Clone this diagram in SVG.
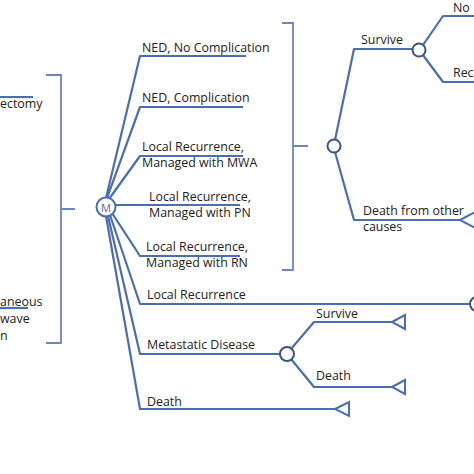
<svg xmlns="http://www.w3.org/2000/svg" width="474" height="474" viewBox="0 0 474 474">
<style>
.ln{fill:none;stroke:#4a6db3;stroke-width:2.2;stroke-linejoin:round}
.br{fill:none;stroke:#6b86c0;stroke-width:1.8}
.ch{fill:#fff;stroke:#3e5478;stroke-width:2}
.tm{fill:#fff;stroke:#4a6db3;stroke-width:2}
text{font-family:"Open Sans","Liberation Sans",sans-serif;font-size:12.4px;fill:#222}
</style>
<rect width="474" height="474" fill="#fff"/>
<g id="connectors">
<path class="ln" d="M0 97 H33"/>
<path class="ln" d="M0 308 H28"/>
<path class="br" d="M46 75 H61 V343 H46 M61 209 H75"/>
<path class="br" d="M282 23 H293 V270 H282 M293 146 H308"/>
<path class="ln" d="M106 198 L140 56 H246"/>
<path class="ln" d="M107 198 L140 107 H243"/>
<path class="ln" d="M109 199 L140 156 H243"/>
<path class="ln" d="M114 205 H240"/>
<path class="ln" d="M112 213 L140 256 H240"/>
<path class="ln" d="M110 215 L140 304 H470"/>
<path class="ln" d="M108 216 L140 354 H280"/>
<path class="ln" d="M106 216 L140 409 H335"/>
<path class="ln" d="M291 349 L314 322 H392"/>
<path class="ln" d="M291 359 L314 387 H392"/>
<path class="ln" d="M335 140 L354 49 H413"/>
<path class="ln" d="M335 152 L354 220 H460"/>
<path class="ln" d="M423 45 L443 16 H474"/>
<path class="ln" d="M423 55 L443 82 H474"/>
</g>
<g id="node-left-top"><text x="0" y="108">ectomy</text></g>
<g id="node-left-bottom"><text x="0" y="306">aneous</text><text x="0" y="323">wave</text><text x="0" y="340">n</text></g>
<g id="node-M"><circle class="tm" cx="106" cy="207" r="9.5"/><text x="106" y="211.5" text-anchor="middle" style="fill:#4a6db3;font-size:11px">M</text></g>
<g id="node-ned-nc"><text x="142" y="52">NED, No Complication</text></g>
<g id="node-ned-c"><text x="142" y="102">NED, Complication</text></g>
<g id="node-lr-mwa"><text x="142" y="151">Local Recurrence,</text><text x="142" y="167">Managed with MWA</text></g>
<g id="node-lr-pn"><text x="149" y="201">Local Recurrence,</text><text x="149" y="217">Managed with PN</text></g>
<g id="node-lr-rn"><text x="146" y="251">Local Recurrence,</text><text x="146" y="267">Managed with RN</text></g>
<g id="node-lr"><text x="147" y="299">Local Recurrence</text><circle class="ch" cx="477" cy="304" r="7"/></g>
<g id="node-meta"><text x="147" y="349">Metastatic Disease</text><circle class="ch" cx="287" cy="354" r="7"/></g>
<g id="node-death"><text x="147" y="406">Death</text><path class="tm" d="M335 409 L349 402 V416 Z"/></g>
<g id="node-meta-survive"><text x="316" y="318">Survive</text><path class="tm" d="M392 322 L405 315 V329 Z"/></g>
<g id="node-meta-death"><text x="316" y="380">Death</text><path class="tm" d="M392 387 L405 380 V394 Z"/></g>
<g id="node-chance"><circle class="ch" cx="334" cy="146" r="6.5"/></g>
<g id="node-survive"><text x="361" y="44">Survive</text><circle class="ch" cx="419" cy="50" r="6.5"/></g>
<g id="node-death-other"><text x="363" y="215">Death from other</text><text x="363" y="231">causes</text><path class="tm" d="M460 220 L475 212 V228 Z"/></g>
<g id="node-no"><text x="453" y="12">No</text></g>
<g id="node-rec"><text x="453" y="77">Rec</text></g>
</svg>
